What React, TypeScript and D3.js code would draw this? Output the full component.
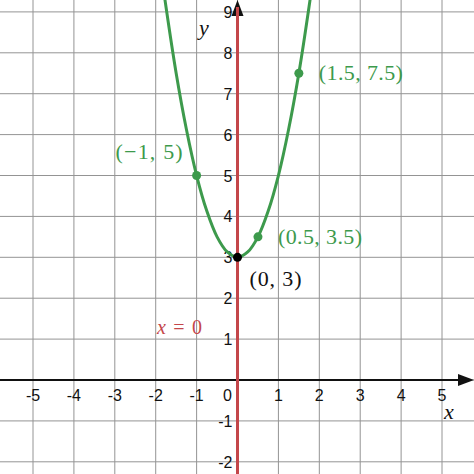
import * as d3 from "d3";

// curve points (x, y)
const curveX = [-1.86, -1.75, -1.5, -1.25, -1, -0.75, -0.5, -0.25, 0, 0.25, 0.5, 0.75, 1, 1.25, 1.5, 1.75, 1.86];
const curveY = [9.92, 9.13, 7.5, 6.13, 5, 4.13, 3.5, 3.13, 3, 3.13, 3.5, 4.13, 5, 6.13, 7.5, 9.13, 9.92];

const greenPoints = [
  { x: -1, y: 5, label: "(−1, 5)" },
  { x: 0.5, y: 3.5, label: "(0.5, 3.5)" },
  { x: 1.5, y: 7.5, label: "(1.5, 7.5)" },
];
const vertex = { x: 0, y: 3, label: "(0, 3)" };

const xTicks = [-5, -4, -3, -2, -1, 1, 2, 3, 4, 5];
const yTicks = [-2, -1, 1, 2, 3, 4, 5, 6, 7, 8, 9];
const xGrid = [-5, -4, -3, -2, -1, 0, 1, 2, 3, 4, 5];
const yGrid = [-2, -1, 0, 1, 2, 3, 4, 5, 6, 7, 8, 9];

const width = 474;
const height = 474;
const green = "#3d9a4c";
const red = "#c4464a";
const serif = "'Liberation Serif', 'DejaVu Serif', serif";
const sans = "'Liberation Sans', Arial, sans-serif";

// label offsets from their point and drawn widths, in px
const labelStyle = [
  { dx: -14, dy: -17, anchor: "end", w: 67 },
  { dx: 20, dy: 7, anchor: "start", w: 84 },
  { dx: 20, dy: 7, anchor: "start", w: 84 },
];

export default function App() {
  const x = d3.scaleLinear().domain([-5.807, 5.782]).range([0, width]);
  const y = d3.scaleLinear().domain([9.291, -2.298]).range([0, height]);

  const line = d3.line<number>()
    .x((_, i) => x(curveX[i]))
    .y((_, i) => y(curveY[i]))
    .curve(d3.curveCatmullRom.alpha(0.5));

  const x0 = x(0);
  const y0 = y(0);

  return (
    <div style={{ position: "absolute", left: 0, top: 0 }}>
      <svg width={width} height={height} style={{ display: "block", background: "#fff" }}>
        <defs>
          <clipPath id="plot">
            <rect x={0} y={0} width={width} height={height} />
          </clipPath>
        </defs>
        <g stroke="#949494" strokeWidth={1}>
          {xGrid.map(d => <line key={"gx" + d} x1={x(d)} x2={x(d)} y1={0} y2={height} />)}
          {yGrid.map(d => <line key={"gy" + d} y1={y(d)} y2={y(d)} x1={0} x2={width} />)}
        </g>

        {/* x axis */}
        <line x1={0} x2={width - 12} y1={y0} y2={y0} stroke="#111" strokeWidth={2} />
        <path d={`M${width},${y0} L${width - 16},${y0 - 6} L${width - 16},${y0 + 6} Z`} fill="#111" />
        {/* y axis */}
        <line x1={x0} x2={x0} y1={12} y2={height} stroke="#111" strokeWidth={2} />
        <path d={`M${x0},0 L${x0 - 6},16 L${x0 + 6},16 Z`} fill="#111" />

        <g fontFamily={sans} fontSize={16} fill="#111">
          {xTicks.map(d => (
            <text key={"tx" + d} x={x(d)} y={y0 + 21} textAnchor="middle">{d}</text>
          ))}
          <text x={x0 - 10} y={y0 + 21} textAnchor="middle">0</text>
          {yTicks.map(d => (
            <text key={"ty" + d} x={x0 - 5} y={y(d) + 6} textAnchor="end">{d}</text>
          ))}
        </g>

        <text x={444} y={419} fontFamily={serif} fontStyle="italic" fontSize={22} fill="#111">x</text>
        <text x={199} y={35} fontFamily={serif} fontStyle="italic" fontSize={22} fill="#111">y</text>

        {/* x = 0 */}
        <line x1={x0} x2={x0} y1={height} y2={y(9.12)} stroke={red} strokeWidth={3} />
        <text x={157} y={334} fontFamily={serif} fontSize={20} fill={red} textLength={45} lengthAdjust="spacing">
          <tspan fontStyle="italic">x</tspan> = 0
        </text>

        <path d={line(curveX) ?? ""} fill="none" stroke={green} strokeWidth={3} clipPath="url(#plot)" />

        {greenPoints.map((p, i) => (
          <g key={p.label}>
            <circle cx={x(p.x)} cy={y(p.y)} r={4.5} fill={green} />
            <text
              x={x(p.x) + labelStyle[i].dx}
              y={y(p.y) + labelStyle[i].dy}
              textAnchor={labelStyle[i].anchor}
              fontFamily={serif}
              fontSize={22}
              fill={green}
              textLength={labelStyle[i].w}
              lengthAdjust="spacing"
            >{p.label}</text>
          </g>
        ))}
        <circle cx={x(vertex.x)} cy={y(vertex.y)} r={4.5} fill="#000" />
        <text
          x={x(vertex.x) + 12}
          y={y(vertex.y) + 29}
          fontFamily={serif}
          fontSize={22}
          fill="#111"
          textLength={52}
          lengthAdjust="spacing"
        >{vertex.label}</text>
      </svg>
    </div>
  );
}
